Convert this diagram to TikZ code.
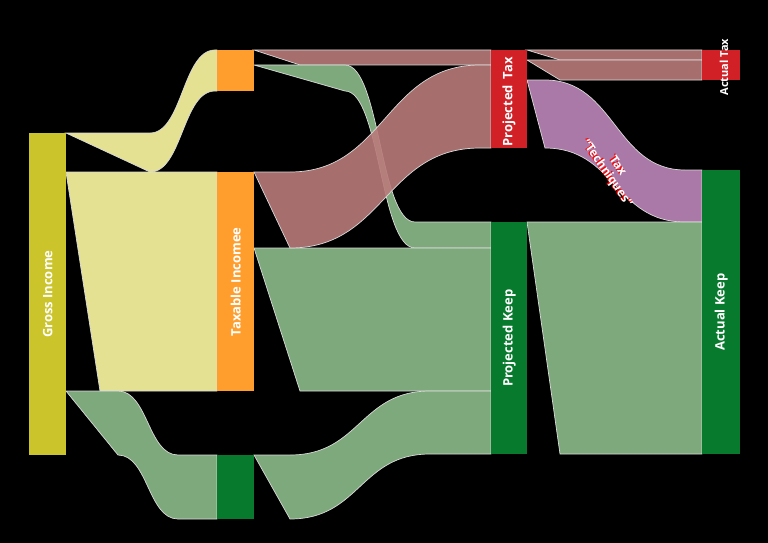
\documentclass[tikz,border=0pt]{standalone}
\usepackage{fontspec}
\setmainfont{Open Sans}
\begin{document}
\begin{tikzpicture}[x=1pt,y=-1pt,
  bar/.style={draw=none,inner sep=0,anchor=north west},
  lbl/.style={text=white,font=\bfseries\fontsize{13}{14}\selectfont,rotate=90},
  tt/.style={font=\bfseries\fontsize{12}{13}\selectfont,rotate=-55,align=center},
  fl/.style={draw=white!85!black,line width=0.7pt,fill opacity=0.9}]
\definecolor{yel}{HTML}{FEFAA2}
\definecolor{grn}{HTML}{8CBC8A}
\definecolor{pnk}{HTML}{BA7A7B}
\definecolor{pur}{HTML}{BE87BA}
\definecolor{olv}{HTML}{CBC42A}
\definecolor{org}{HTML}{FF9E2C}
\definecolor{dgr}{HTML}{087A2E}
\definecolor{rd}{HTML}{D22027}
\fill[black] (0,0) rectangle (768,543);
\useasboundingbox (0,0) rectangle (768,543);
\newcommand\flw[9]{%
 \path[fl,fill=#9] (#1,#2) -- (#4,#2) .. controls ({(#4+#5)/2},#2) and ({(#4+#5)/2},#7) .. (#5,#7) -- (#6,#7)
   -- (#6,#8) -- (#5,#8) .. controls ({(#4+#5)/2},#8) and ({(#4+#5)/2},#3) .. (#4,#3) -- cycle;}
\flw{66}{133}{172}{150}{215}{217}{50}{91}{yel}
\flw{66}{172}{391}{100}{200}{217}{172}{391}{yel}
\flw{66}{391}{455}{118}{178}{217}{455}{519}{grn}
\flw{254}{50}{65}{300}{480}{491}{50}{65}{pnk}
\flw{254}{65}{91}{345}{415}{491}{222}{248}{grn}
\flw{254}{248}{391}{300}{480}{491}{248}{391}{grn}
\flw{254}{455}{519}{290}{430}{491}{391}{454}{grn}
\flw{254}{172}{248}{290}{480}{491}{65}{148}{pnk}
\flw{527}{50}{60}{560}{690}{702}{50}{60}{pnk}
\flw{527}{60}{80}{560}{690}{702}{60}{80}{pnk}
\flw{527}{80}{148}{545}{685}{702}{170}{222}{pur}
\flw{527}{222}{454}{560}{690}{702}{222}{454}{grn}
\node[bar,fill=olv,minimum width=37pt,minimum height=322pt] (gi) at (29,133) {};
\node[bar,fill=org,minimum width=37pt,minimum height=41pt] (to) at (217,50) {};
\node[bar,fill=org,minimum width=37pt,minimum height=219pt] (ti) at (217,172) {};
\node[bar,fill=dgr,minimum width=37pt,minimum height=64pt] (dg) at (217,455) {};
\node[bar,fill=rd,minimum width=36pt,minimum height=98pt] (pt) at (491,50) {};
\node[bar,fill=dgr,minimum width=36pt,minimum height=232pt] (pk) at (491,222) {};
\node[bar,fill=rd,minimum width=38pt,minimum height=30pt] (at) at (702,50) {};
\node[bar,fill=dgr,minimum width=38pt,minimum height=284pt] (ak) at (702,170) {};
\node[lbl] at (gi.center) {Gross Income};
\node[lbl] at (ti.center) {Taxable Incomee};
\node[lbl] at (509,102) {Projected\, Tax};
\node[lbl] at (pk.center) {Projected Keep};
\node[lbl] at (ak.center) {Actual Keep};
\node[lbl,font=\bfseries\fontsize{11}{12}\selectfont] at (724,67) {Actual Tax};
\node[tt,text=red] at (610.8,169.2) {Tax\\``Techniques''};
\node[tt,text=white] at (612,170) {Tax\\``Techniques''};
\end{tikzpicture}
\end{document}
